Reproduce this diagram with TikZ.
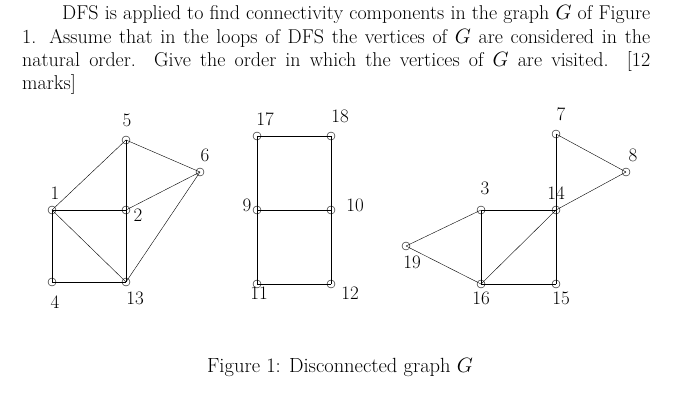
\documentclass[tikz,border=0pt]{standalone}
\begin{document}
\begin{tikzpicture}[x=1pt,y=-1pt,
  lb/.style={font=\fontsize{19}{19}\selectfont},
  tl/.style={anchor=base west,inner sep=0pt,font=\fontsize{20}{23.5}\selectfont}]
\useasboundingbox (0,0) rectangle (700,414);
\node[tl] (t1) at (62,20) {\makebox[588pt][s]{DFS is applied to find connectivity components in the graph $G$ of Figure}};
\node[tl] (t2) at (22,44) {\makebox[628pt][s]{1. Assume that in the loops of DFS the vertices of $G$ are considered in the}};
\node[tl] (t3) at (22,67) {\makebox[628pt][s]{natural order.\ \ Give the order in which the vertices of $G$ are visited.\ \ [12}};
\node[tl] (t4) at (22,90) {marks]};
\foreach \n/\x/\y in {5/126/140,6/200/172,1/52/210,2/126/210,4/52/282,13/126/282,
 17/257/136,18/331/136,9/257/210,10/331/210,11/257/284,12/331/284,
 7/556/134,8/626/172,3/481/210,14/556/210,19/406/246,16/481/284,15/556/284}
 \coordinate (v\n) at (\x,\y);
\foreach \a/\b in {5/1,5/2,2/13,5/6,2/6,1/2,1/4,1/13,4/13,6/13,
 17/18,17/9,9/11,11/12,12/10,10/18,9/10,
 7/14,7/8,8/14,3/14,3/16,19/3,19/16,14/16,14/15,16/15}
 \draw (v\a) -- (v\b);
\foreach \n in {5,6,1,2,4,13,17,18,9,10,11,12,7,8,3,14,19,16,15}
 \draw (v\n) circle (4);
\foreach \n/\x/\y in {5/127/120,6/205/155,1/55/193,2/138/215,4/55/302,13/135/298,
 17/265/119,18/340/116,9/247/205,10/355/205,11/259/293,12/350/293,
 7/561/114,8/633/155,3/485/188,14/556/193,19/412/262,16/481/298,15/561/298}
 \node[lb] (l\n) at (\x,\y) {\n};
\node[font=\fontsize{20.5}{22}\selectfont] (cap) at (340,367) {Figure 1: Disconnected graph $G$};
\end{tikzpicture}
\end{document}
